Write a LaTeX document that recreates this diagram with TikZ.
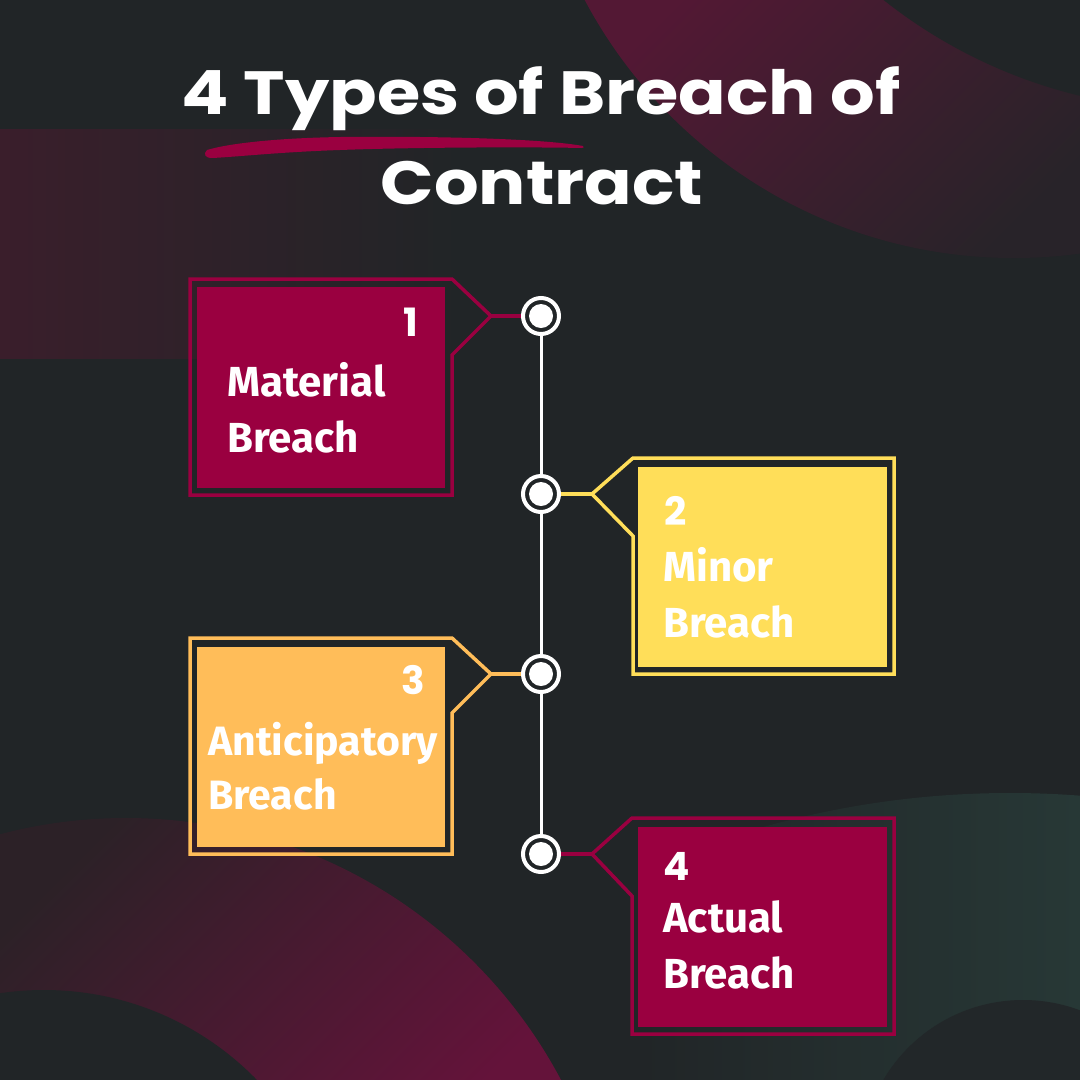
\documentclass[tikz,border=0pt]{standalone}
\usepackage{fontspec}
\newfontfamily\titlefont{Poppins}[FakeStretch=1.15]
\newfontfamily\numfont{Poppins}
\newfontfamily\bodyfont{Fira Sans}
\definecolor{bg}{HTML}{212527}
\definecolor{crim}{HTML}{9A0040}
\definecolor{yel}{HTML}{FFDE59}
\definecolor{ora}{HTML}{FFBD59}
\definecolor{maroonA}{HTML}{531834}
\definecolor{maroonB}{HTML}{3A1E2B}
\definecolor{maroonC}{HTML}{64133A}
\definecolor{blobdark}{HTML}{2C2127}
\definecolor{tealA}{HTML}{273836}
\begin{document}
\begin{tikzpicture}[x=1pt,y=-1pt,
  outl/.style={draw=#1, line width=3.5, line join=miter},
  fillbox/.style={fill=#1, inner sep=0, minimum width=248, minimum height=201},
  conn/.style={draw=#1, line width=3.5},
  ring/.style={circle, draw=white, line width=4, fill=bg, minimum size=36, inner sep=0},
  dot/.style={circle, fill=white, minimum size=24, inner sep=0},
  num/.style={font=\numfont\bfseries\fontsize{39}{42}\selectfont, text=white, inner sep=0},
  lbl/.style={font=\bodyfont\bfseries\fontsize{42}{46}\selectfont, text=white, inner sep=0, anchor=base west},
  lbls/.style={font=\bodyfont\bfseries\fontsize{41}{46}\selectfont, text=white, inner sep=0, anchor=base west},
  ttl/.style={font=\titlefont\bfseries\fontsize{61}{70}\selectfont, text=white, inner sep=0, anchor=base}
]
\useasboundingbox (0,0) rectangle (1080,1080);
\fill[bg] (0,0) rectangle (1080,1080);
% ---- background blobs ----
\begin{scope}
  \clip (0,0) rectangle (1080,1080);
  % top right band
  \begin{scope}
    \clip (1014,-228) circle [radius=486];
    \shade[top color=maroonA, bottom color=bg!85!maroonA, shading angle=45] (560,0) rectangle (1080,270);
  \end{scope}
  \fill[bg] (1200,-400) circle [radius=510];
  % left middle band
  \shade[left color=maroonB, right color=bg] (0,129) rectangle (460,358);
  % bottom left band
  \begin{scope}
    \clip (126,1310) circle [radius=492];
    \shade[top color=blobdark, bottom color=maroonC, shading angle=45] (0,800) rectangle (620,1080);
  \end{scope}
  \fill[bg] (44,1287) circle [radius=297];
  % bottom right teal band
  \begin{scope}
    \clip (1010,1700) circle [radius=907];
    \shade[left color=bg, right color=tealA] (640,780) rectangle (1080,1080);
  \end{scope}
  \fill[bg!90!tealA] (1023,1162) circle [radius=162];
\end{scope}
% ---- brush stroke ----
\fill[crim] (207,150) .. controls (230,143) and (280,138) .. (340,137)
  .. controls (420,136) and (540,138) .. (583,146)
  .. controls (584,147) and (584,148) .. (582,148)
  .. controls (540,147) and (420,147) .. (340,150)
  .. controls (280,152) and (235,157) .. (212,158)
  .. controls (205,158) and (203,154) .. (207,150) -- cycle;
% ---- title ----
\node[ttl] (title1) at (541,114) {4 Types of Breach of};
\node[ttl] (title2) at (542,204) {Contract};
% ---- timeline circles ----
\node[ring] (c1) at (541,316) {};
\node[ring] (c2) at (541,494) {};
\node[ring] (c3) at (541,674) {};
\node[ring] (c4) at (541,854) {};
\draw[white, line width=3] (c1) -- (c2);
\draw[white, line width=3] (c2) -- (c3);
\draw[white, line width=3] (c3) -- (c4);
\node[dot] (d1) at (c1) {};
\node[dot] (d2) at (c2) {};
\node[dot] (d3) at (c3) {};
\node[dot] (d4) at (c4) {};
% ---- box 1 ----
\coordinate (tip1) at (491,316);
\draw[outl=crim] (190,279) -- (452,279) -- (tip1) -- (452,355) -- (452,495) -- (190,495) -- cycle;
\node[fillbox=crim] (f1) at (321,387.5) {};
\draw[conn=crim] (tip1) -- (c1);
\node[num, anchor=base east] (n1) at (418,336) {1};
\node[lbl] (a1) at (227,396) {Material};
\node[lbl] (b1) at (227,452) {Breach};
% ---- box 2 ----
\coordinate (tip2) at (592,494);
\draw[outl=yel] (633,458) -- (894,458) -- (894,674) -- (633,674) -- (633,536) -- (tip2) -- cycle;
\node[fillbox=yel, minimum width=249, minimum height=200] (f2) at (762.5,567) {};
\draw[conn=yel] (tip2) -- (c2);
\node[num, anchor=base west] (n2) at (664,525) {2};
\node[lbl] (a2) at (663,581) {Minor};
\node[lbl] (b2) at (663,637) {Breach};
% ---- box 3 ----
\coordinate (tip3) at (491,674);
\draw[outl=ora] (190,638) -- (452,638) -- (tip3) -- (452,713) -- (452,854) -- (190,854) -- cycle;
\node[fillbox=ora, minimum height=200] (f3) at (321,747) {};
\draw[conn=ora] (tip3) -- (c3);
\node[num, anchor=base east] (n3) at (425,694) {3};
\node[lbls] (a3) at (208,755) {Anticipatory};
\node[lbls] (b3) at (208,809) {Breach};
% ---- box 4 ----
\coordinate (tip4) at (592,854);
\draw[outl=crim] (632,818) -- (894,818) -- (894,1034) -- (632,1034) -- (632,896) -- (tip4) -- cycle;
\node[fillbox=crim, minimum width=249, minimum height=200] (f4) at (762.5,927) {};
\draw[conn=crim] (tip4) -- (c4);
\node[num, anchor=base west] (n4) at (663,880) {4};
\node[lbl] (a4) at (663,932) {Actual};
\node[lbl] (b4) at (663,988) {Breach};
\end{tikzpicture}
\end{document}
